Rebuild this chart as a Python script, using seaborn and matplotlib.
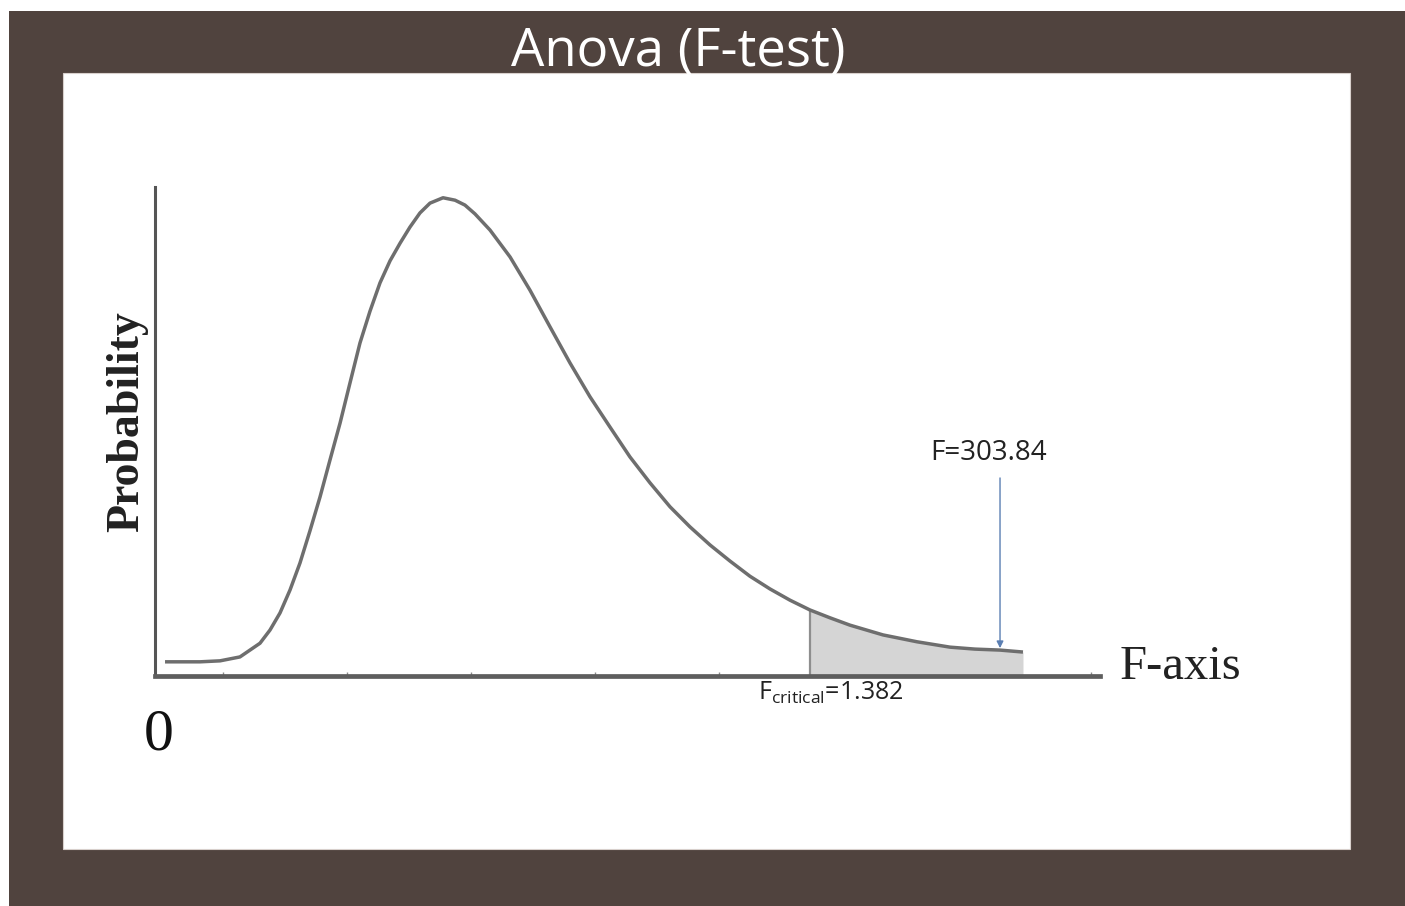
import numpy as np
import pandas as pd
import matplotlib
matplotlib.use("Agg")
import matplotlib.pyplot as plt
import seaborn as sns
from matplotlib.patches import Rectangle

# ---- data (arbitrary units: x 0..10, y 0..1) ----
curve_x = [0.106, 0.476, 0.688, 0.899, 1.111, 1.217, 1.323, 1.429, 1.534, 1.640,
           1.746, 1.852, 1.958, 2.063, 2.169, 2.275, 2.381, 2.487, 2.593, 2.698,
           2.804, 2.910, 3.048, 3.175, 3.280, 3.386, 3.545, 3.757, 3.968, 4.180,
           4.392, 4.603, 4.815, 5.026, 5.238, 5.450, 5.661, 5.873, 6.085, 6.296,
           6.508, 6.720, 6.931, 7.143, 7.354, 7.704, 8.063, 8.413, 8.677, 8.942,
           9.185]
curve_y = [0.029, 0.029, 0.031, 0.039, 0.067, 0.094, 0.129, 0.176, 0.231, 0.297,
           0.366, 0.442, 0.517, 0.599, 0.681, 0.746, 0.804, 0.849, 0.885, 0.918,
           0.947, 0.967, 0.978, 0.973, 0.963, 0.945, 0.912, 0.857, 0.789, 0.714,
           0.640, 0.571, 0.509, 0.448, 0.395, 0.346, 0.305, 0.268, 0.235, 0.204,
           0.178, 0.155, 0.135, 0.119, 0.104, 0.084, 0.070, 0.059, 0.055, 0.053,
           0.049]
f_critical_x = 6.931
f_stat_x = 8.942
arrow_top_y = 0.405
arrow_tip_y = 0.057
tick_positions = [0.72, 2.03, 3.34, 4.66, 5.97, 7.28, 8.59, 9.90]

title_text = "Anova (F-test)"
ylabel_text = "Probability"
xlabel_text = "F-axis"
origin_text = "0"
fstat_text = "F=303.84"
fcrit_text = r"$\mathregular{F_{critical}}$=1.382"

# ---- figure ----
W, H = 1405, 906
sns.set_style("white")
plt.rcParams['font.family'] = ['Open Sans', 'DejaVu Sans']

dark = '#50433e'
fig = plt.figure(figsize=(W / 100, H / 100), dpi=100, facecolor='white')
fig.patches.append(Rectangle((9 / W, 0), 1 - 9 / W, 1 - 11 / H, transform=fig.transFigure,
                             facecolor=dark, edgecolor='none', zorder=-2))
fig.patches.append(Rectangle((63 / W, 1 - 849 / H), (1350 - 63) / W, (849 - 73) / H,
                             transform=fig.transFigure, facecolor='white',
                             edgecolor='#d8d0cc', lw=0.8, zorder=-1))

ax = fig.add_axes([155 / W, 1 - 676 / H, (1100 - 155) / W, (676 - 187) / H])
ax.patch.set_alpha(0)

df = pd.DataFrame({'x': curve_x, 'y': curve_y})
mask = df['x'] >= f_critical_x
ax.fill_between(df['x'][mask], 0, df['y'][mask], color='#d5d5d5', lw=0, zorder=1)
crit_y = float(df.loc[mask, 'y'].iloc[0])
ax.vlines(f_critical_x, 0, crit_y, color='#8e8e8e', lw=1.6, zorder=2)
sns.lineplot(data=df, x='x', y='y', sort=False, color='#6e6e6e', lw=2.5, ax=ax,
             zorder=3, solid_capstyle='butt', solid_joinstyle='round')

ax.annotate('', xy=(f_stat_x, arrow_tip_y), xytext=(f_stat_x, arrow_top_y),
            arrowprops=dict(arrowstyle='-|>', color='#5b7fb3', lw=1.0,
                            mutation_scale=10, shrinkA=0, shrinkB=0), zorder=4)

ax.set_xlim(0, 10)
ax.set_ylim(0, 1)
ax.set_xlabel('')
ax.set_ylabel('')
ax.set_xticks(tick_positions)
ax.set_xticklabels([])
ax.set_yticks([])
ax.tick_params(axis='x', direction='in', length=3, width=1, color='#8a8a8a', bottom=True)
for s in ['top', 'right']:
    ax.spines[s].set_visible(False)
ax.spines['left'].set_linewidth(2.2)
ax.spines['left'].set_color('#555555')
ax.spines['bottom'].set_linewidth(3.4)
ax.spines['bottom'].set_color('#5e5e5e')
for s in ax.spines.values():
    s.set_zorder(5)

# ---- texts ----
fig.text(678 / W, 1 - 65 / H, title_text, color='white', fontsize=38,
         ha='center', va='baseline', family=['Open Sans', 'DejaVu Sans'])
fig.text(127 / W, 1 - 422 / H, ylabel_text, rotation=90, fontsize=33, fontweight='bold',
         ha='center', va='center', color='#222222', family=['Liberation Serif', 'DejaVu Serif'])
fig.text(1120 / W, 1 - 679 / H, xlabel_text, fontsize=35, ha='left', va='baseline',
         color='#222222', family=['Liberation Serif', 'DejaVu Serif'])
fig.text(159 / W, 1 - 750 / H, origin_text, fontsize=43, ha='center', va='baseline',
         color='#111111', family=['Liberation Serif', 'DejaVu Serif'])
fig.text(930 / W, 1 - 460 / H, fstat_text, fontsize=20, ha='left', va='baseline',
         color='#222222')
fig.text(758 / W, 1 - 700 / H, fcrit_text, fontsize=18, ha='left', va='baseline',
         color='#222222')

fig.savefig('out.png', dpi=100, facecolor='white')
